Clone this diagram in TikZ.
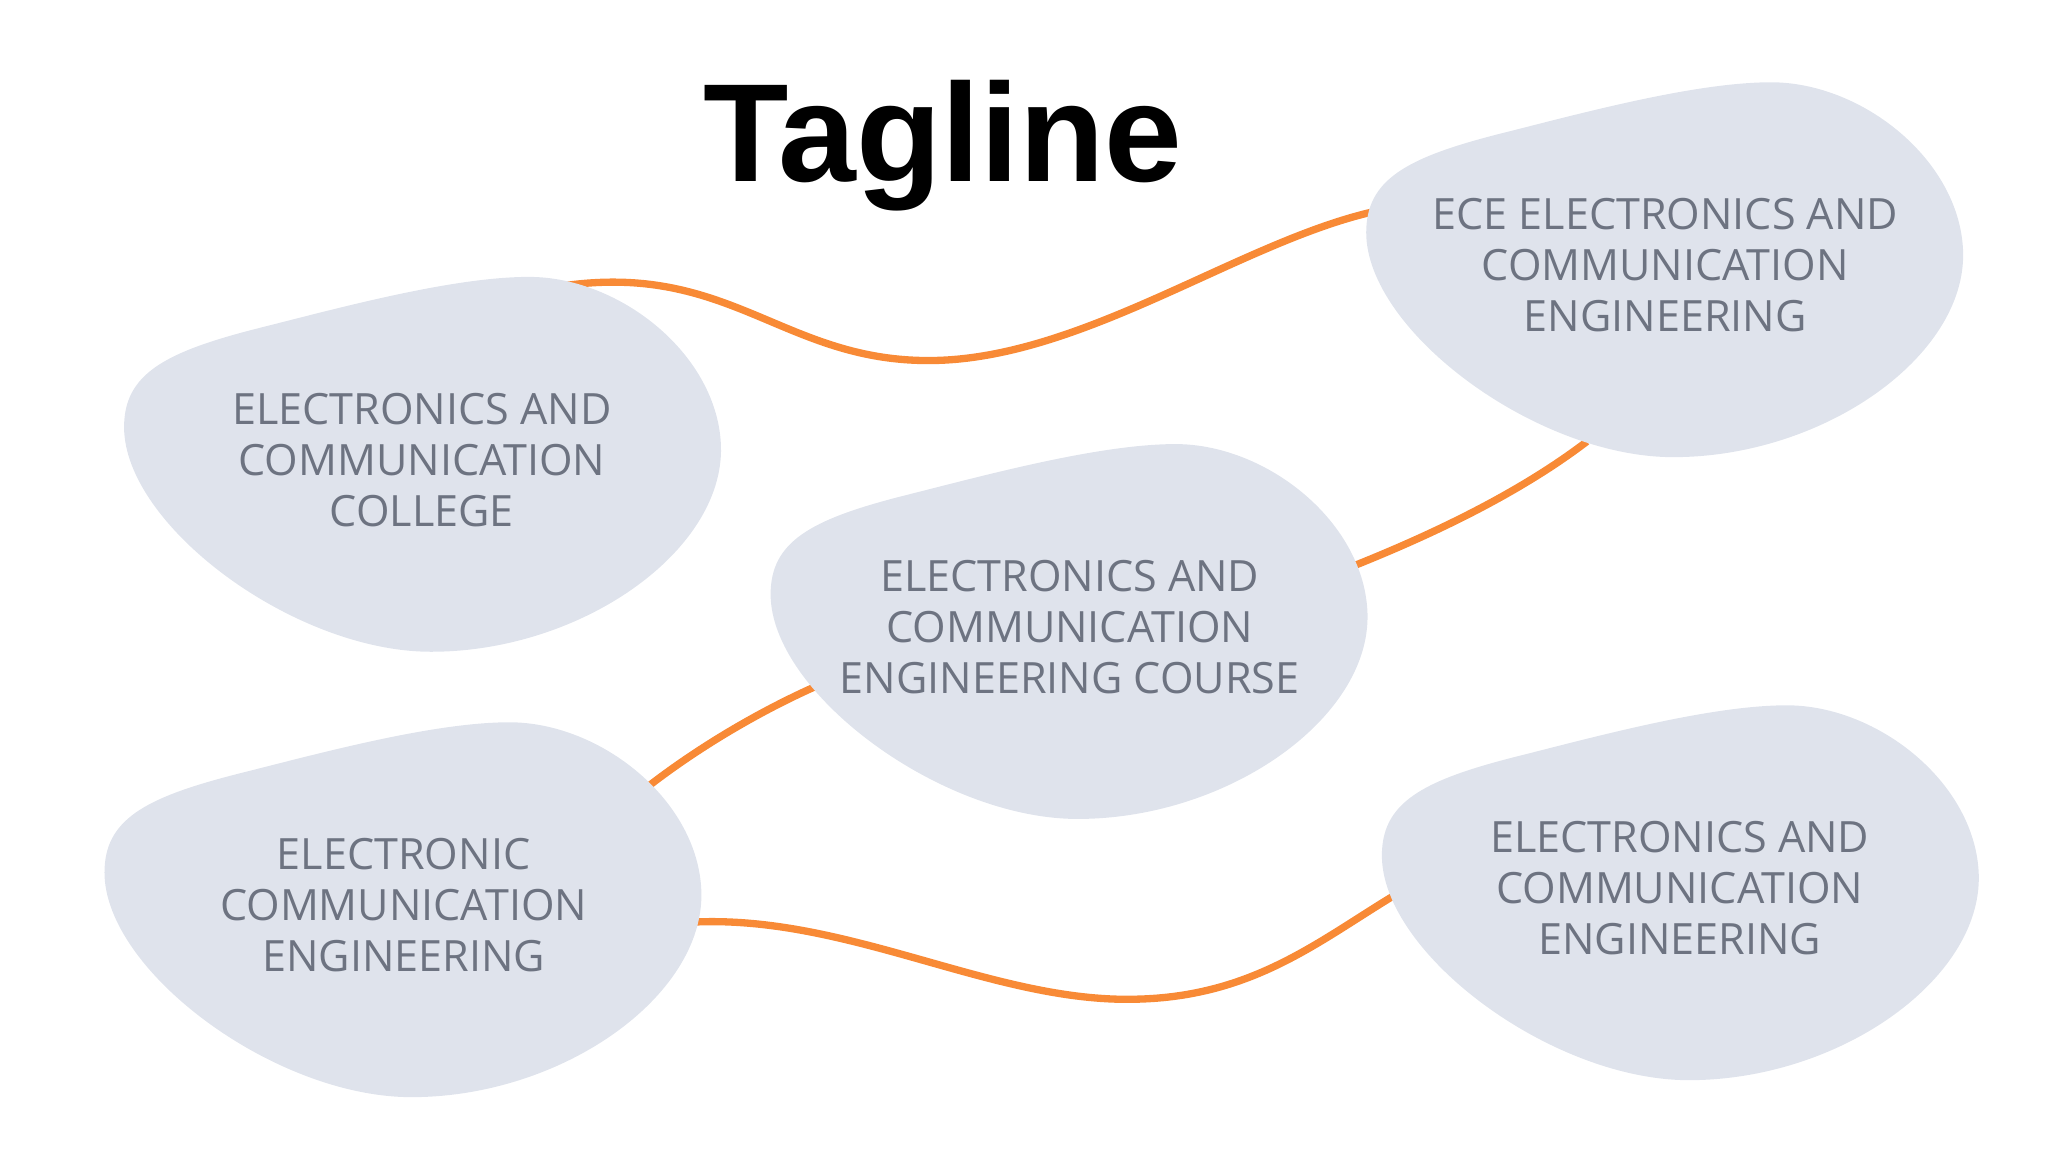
\documentclass[tikz,border=0pt]{standalone}
\usepackage{fontspec}
\newfontfamily\blobfont{Open Sans}
\newfontfamily\titlefont{Liberation Sans}
\definecolor{blobfill}{HTML}{DFE3EC}
\definecolor{blobtext}{HTML}{6D7381}
\definecolor{conncol}{HTML}{F88A36}
\newcommand\blobshape{(0,115) .. controls (0,75) and (30,58) .. (100,40) .. controls (160,25) and (250,0) .. (310,0) .. controls (380,0) and (455,60) .. (457,130) .. controls (459,210) and (350,287) .. (235,287) .. controls (130,287) and (0,190) .. (0,115) -- cycle}
\tikzset{
  blob/.style={fill=blobfill, draw=none},
  blobtxt/.style={text=blobtext, align=center, font=\blobfont\fontsize{16.5}{19.5}\selectfont},
  conn/.style={draw=conncol, line width=2.8pt},
}
\begin{document}
\begin{tikzpicture}[x=0.5pt,y=-0.5pt]
\useasboundingbox (0,0) rectangle (1568,882);
% connector end points
\coordinate (c1a) at (430,219);
\coordinate (c1b) at (1052,162);
\coordinate (c2a) at (1215,338);
\coordinate (c2b) at (1032,435);
\coordinate (c3a) at (628,524);
\coordinate (c3b) at (490,607);
\coordinate (c4a) at (530,706);
\coordinate (c4b) at (1070,684);
% connectors
\draw[conn] (c1a) .. controls (560,200) and (600,278) .. (715,276) .. controls (830,274) and (950,185) .. (c1b);
\draw[conn] (c2a) .. controls (1160,380) and (1090,412) .. (c2b);
\draw[conn] (c3a) .. controls (580,545) and (530,575) .. (c3b);
\draw[conn] (c4a) .. controls (650,700) and (760,768) .. (870,765) .. controls (960,763) and (1010,720) .. (c4b);
% blobs
\fill[blob, shift={(95,212)}] \blobshape;
\fill[blob, shift={(1046,63)}] \blobshape;
\fill[blob, shift={(590,340)}] \blobshape;
\fill[blob, shift={(80,553)}] \blobshape;
\fill[blob, shift={(1058,540)}] \blobshape;
% texts
\node[blobtxt] (t1) at (323,352) {ELECTRONICS AND\\COMMUNICATION\\COLLEGE};
\node[blobtxt] (t2) at (1275,203) {ECE ELECTRONICS AND\\COMMUNICATION\\ENGINEERING};
\node[blobtxt] (t3) at (819,480) {ELECTRONICS AND\\COMMUNICATION\\ENGINEERING COURSE};
\node[blobtxt] (t4) at (309,693) {ELECTRONIC\\COMMUNICATION\\ENGINEERING};
\node[blobtxt] (t5) at (1286,680) {ELECTRONICS AND\\COMMUNICATION\\ENGINEERING};
% title
\node[anchor=base, font=\titlefont\bfseries\fontsize{53.5}{60}\selectfont] (title) at (722,139) {Tagline};
\end{tikzpicture}
\end{document}
